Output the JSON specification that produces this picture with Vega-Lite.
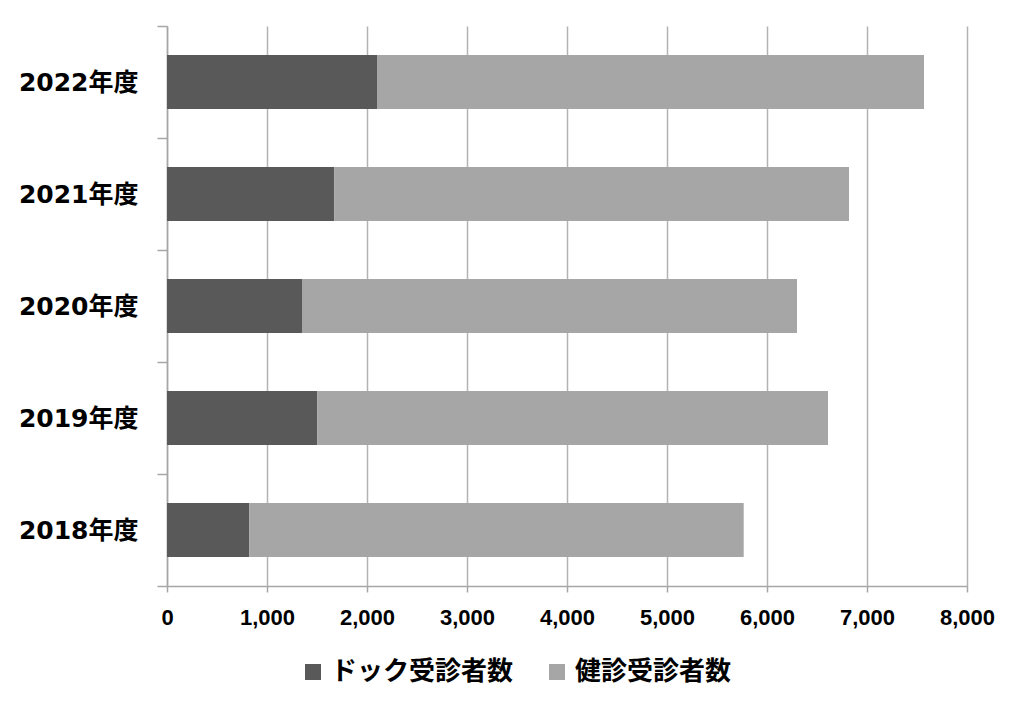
{
  "$schema": "https://vega.github.io/schema/vega-lite/v6.json",
  "width": 800,
  "height": 560,
  "autosize": {"type": "none"},
  "padding": {"left": 167, "top": 26, "right": 57, "bottom": 128},
  "background": "white",
  "data": {
    "values": [
      {"年度": "2022年度", "系列": "ドック受診者数", "人数": 2100},
      {"年度": "2022年度", "系列": "健診受診者数", "人数": 5470},
      {"年度": "2021年度", "系列": "ドック受診者数", "人数": 1674},
      {"年度": "2021年度", "系列": "健診受診者数", "人数": 5146},
      {"年度": "2020年度", "系列": "ドック受診者数", "人数": 1350},
      {"年度": "2020年度", "系列": "健診受診者数", "人数": 4950},
      {"年度": "2019年度", "系列": "ドック受診者数", "人数": 1504},
      {"年度": "2019年度", "系列": "健診受診者数", "人数": 5106},
      {"年度": "2018年度", "系列": "ドック受診者数", "人数": 824},
      {"年度": "2018年度", "系列": "健診受診者数", "人数": 4943}
    ]
  },
  "mark": {"type": "bar", "height": {"band": 0.48}},
  "encoding": {
    "y": {
      "field": "年度",
      "type": "nominal",
      "sort": ["2022年度", "2021年度", "2020年度", "2019年度", "2018年度"],
      "scale": {"paddingInner": 0, "paddingOuter": 0},
      "axis": {
        "title": null,
        "tickBand": "extent",
        "tickSize": 10,
        "tickColor": "#a6a6a6",
        "domainColor": "#a6a6a6",
        "labelPadding": 19,
        "labelFont": "DejaVu Sans, Noto Sans CJK JP",
        "labelFontSize": 25,
        "labelFontWeight": "bold",
        "labelColor": "#000000",
        "grid": false
      }
    },
    "x": {
      "field": "人数",
      "type": "quantitative",
      "stack": "zero",
      "scale": {"domain": [0, 8000], "nice": false},
      "axis": {
        "title": null,
        "values": [0, 1000, 2000, 3000, 4000, 5000, 6000, 7000, 8000],
        "format": ",d",
        "grid": true,
        "gridColor": "#b3b3b3",
        "tickSize": 6,
        "tickColor": "#a6a6a6",
        "domainColor": "#a6a6a6",
        "labelPadding": 15,
        "labelFont": "Liberation Sans",
        "labelFontSize": 22,
        "labelFontWeight": "bold",
        "labelColor": "#000000",
        "labelFlush": false
      }
    },
    "color": {
      "field": "系列",
      "type": "nominal",
      "scale": {
        "domain": ["ドック受診者数", "健診受診者数"],
        "range": ["#595959", "#a6a6a6"]
      },
      "legend": {
        "title": null,
        "orient": "none",
        "direction": "horizontal",
        "legendX": 133,
        "legendY": 633,
        "padding": 0,
        "symbolType": "square",
        "symbolSize": 256,
        "symbolStrokeWidth": 0,
        "labelOffset": 5,
        "columnPadding": 30,
        "labelFont": "Noto Sans CJK JP",
        "labelFontSize": 26,
        "labelFontWeight": "bold",
        "labelColor": "#000000",
        "labelLimit": 400
      }
    },
    "order": {"field": "系列", "sort": "ascending"}
  },
  "config": {
    "view": {"stroke": null},
    "axis": {"domainWidth": 1.5, "tickWidth": 1.5, "gridWidth": 1.5}
  }
}
